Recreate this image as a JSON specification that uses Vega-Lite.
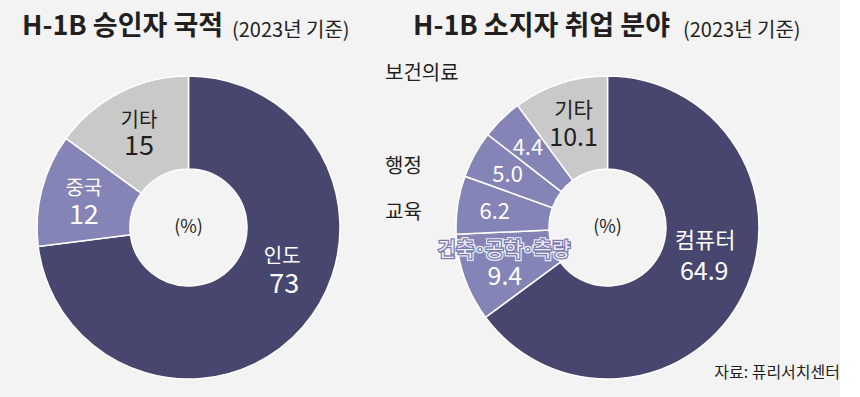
{
  "$schema": "https://vega.github.io/schema/vega-lite/v6.json",
  "background": "#f3f3f3",
  "padding": {"left": 0, "top": 13, "right": 0, "bottom": 0},
  "autosize": {"type": "pad"},
  "config": {
    "font": "Noto Sans CJK KR",
    "view": {"stroke": null},
    "title": {"color": "#231f20", "frame": "group", "anchor": "start", "baseline": "alphabetic", "offset": 0},
    "text": {"font": "Noto Sans CJK KR", "baseline": "middle", "align": "center"}
  },
  "resolve": {"scale": {"color": "independent"}},
  "datasets": {
    "origin": [
      {"cat": "인도", "value": 73, "rank": 1},
      {"cat": "중국", "value": 12, "rank": 2},
      {"cat": "기타", "value": 15, "rank": 3}
    ],
    "field": [
      {"cat": "컴퓨터", "value": 64.9, "rank": 1},
      {"cat": "건축·공학·측량", "value": 9.4, "rank": 2},
      {"cat": "교육", "value": 6.2, "rank": 3},
      {"cat": "행정", "value": 5.0, "rank": 4},
      {"cat": "보건의료", "value": 4.4, "rank": 5},
      {"cat": "기타", "value": 10.1, "rank": 6}
    ]
  },
  "title": {"text": "자료: 퓨리서치센터", "orient": "bottom", "anchor": "start", "align": "right", "fontSize": 16, "fontWeight": "normal", "dx": 840, "dy": -49},
  "spacing": 8,
  "hconcat": [
    {
      "title": {"text": "(2023년 기준)", "dx": 232, "dy": 32, "fontSize": 20, "fontWeight": "normal"},
      "vconcat": [
        {
          "title": {"text": "H-1B 승인자 국적", "dx": 22, "fontSize": 27, "fontWeight": "bold"},
          "width": 377,
          "height": 365,
          "data": {"name": "origin"},
          "encoding": {
            "theta": {"field": "value", "type": "quantitative", "stack": true},
            "order": {"field": "rank", "type": "quantitative"}
          },
          "layer": [
            {
              "mark": {"type": "arc", "innerRadius": 58.5, "outerRadius": 151.5, "stroke": "#ffffff", "strokeWidth": 1.5},
              "encoding": {
                "color": {"field": "cat", "type": "nominal", "legend": null,
                  "scale": {"domain": ["인도", "중국", "기타"], "range": ["#46466f", "#8584b6", "#c9c9c9"]}}
              }
            },
            {
              "mark": {"type": "text", "radius": 107, "dx": -1, "dy": -11.5, "fontSize": 20},
              "encoding": {
                "text": {"condition": {"test": "datum.cat !== '인도'", "field": "cat", "type": "nominal"}, "value": ""},
                "color": {"condition": {"test": "datum.cat === '기타'", "value": "#231f20"}, "value": "#ffffff"}
              }
            },
            {
              "mark": {"type": "text", "radius": 107, "dx": -1, "dy": 15, "fontSize": 27},
              "encoding": {
                "text": {"condition": {"test": "datum.cat !== '인도'", "field": "value", "type": "quantitative", "format": ".0f"}, "value": ""},
                "color": {"condition": {"test": "datum.cat === '기타'", "value": "#231f20"}, "value": "#ffffff"}
              }
            },
            {
              "mark": {"type": "text", "radius": 105, "dx": 15, "dy": -40, "fontSize": 20, "color": "#ffffff"},
              "encoding": {
                "text": {"condition": {"test": "datum.cat === '인도'", "field": "cat", "type": "nominal"}, "value": ""}
              }
            },
            {
              "mark": {"type": "text", "radius": 105, "dx": 17, "dy": -12, "fontSize": 27, "color": "#ffffff"},
              "encoding": {
                "text": {"condition": {"test": "datum.cat === '인도'", "field": "value", "type": "quantitative", "format": ".0f"}, "value": ""}
              }
            },
            {
              "mark": {"type": "text", "radius": 0, "fontSize": 18, "color": "#231f20"},
              "encoding": {
                "text": {"condition": {"test": "datum.rank === 1", "value": "(%)"}, "value": ""}
              }
            }
          ]
        }
      ]
    },
    {
      "title": {"text": "(2023년 기준)", "dx": 270, "dy": 32, "fontSize": 20, "fontWeight": "normal"},
      "vconcat": [
        {
          "title": {"text": "H-1B 소지자 취업 분야", "dx": 0, "fontSize": 27, "fontWeight": "bold"},
          "width": 389,
          "height": 365,
          "data": {"name": "field"},
          "encoding": {
            "theta": {"field": "value", "type": "quantitative", "stack": true},
            "order": {"field": "rank", "type": "quantitative"}
          },
          "layer": [
            {
              "mark": {"type": "arc", "innerRadius": 58.5, "outerRadius": 151.5, "stroke": "#ffffff", "strokeWidth": 1.5},
              "encoding": {
                "color": {"field": "cat", "type": "nominal", "legend": null,
                  "scale": {"domain": ["컴퓨터", "건축·공학·측량", "교육", "행정", "보건의료", "기타"],
                            "range": ["#46466f", "#8584b6", "#8584b6", "#8584b6", "#8584b6", "#c9c9c9"]}}
              }
            },
            {
              "mark": {"type": "text", "radius": 112, "dx": 1, "dy": -10, "fontSize": 21, "color": "#231f20"},
              "encoding": {
                "text": {"condition": {"test": "datum.cat === '기타'", "field": "cat", "type": "nominal"}, "value": ""}
              }
            },
            {
              "mark": {"type": "text", "radius": 112, "dx": 1, "dy": 17, "fontSize": 25, "color": "#231f20"},
              "encoding": {
                "text": {"condition": {"test": "datum.cat === '기타'", "field": "value", "type": "quantitative", "format": ".1f"}, "value": ""}
              }
            },
            {
              "mark": {"type": "text", "radius": 112, "dx": 2, "dy": -14, "fontSize": 20, "color": "#ffffff", "stroke": "#ffffff", "strokeWidth": 5, "strokeOpacity": 0.85},
              "encoding": {
                "text": {"condition": {"test": "datum.rank === 2", "field": "cat", "type": "nominal"}, "value": ""}
              }
            },
            {
              "mark": {"type": "text", "radius": 112, "dx": 2, "dy": -14, "fontSize": 20, "color": "#7b7ab1", "stroke": "#7b7ab1", "strokeWidth": 2.6},
              "encoding": {
                "text": {"condition": {"test": "datum.rank === 2", "field": "cat", "type": "nominal"}, "value": ""}
              }
            },
            {
              "mark": {"type": "text", "radius": 112, "dx": 2, "dy": -14, "fontSize": 20, "color": "#eeeef7"},
              "encoding": {
                "text": {"condition": {"test": "datum.rank === 2", "field": "cat", "type": "nominal"}, "value": ""}
              }
            },
            {
              "mark": {"type": "text", "radius": 112, "dx": 3, "dy": 12.5, "fontSize": 25, "color": "#ffffff"},
              "encoding": {
                "text": {"condition": {"test": "datum.rank === 2", "field": "value", "type": "quantitative", "format": ".1f"}, "value": ""}
              }
            },
            {
              "mark": {"type": "text", "radius": 114, "dy": 2, "fontSize": 22, "color": "#ffffff"},
              "encoding": {
                "text": {"condition": {"test": "datum.rank >= 3 && datum.rank <= 5", "field": "value", "type": "quantitative", "format": ".1f"}, "value": ""}
              }
            },
            {
              "mark": {"type": "text", "radius": 105, "dx": 4, "dy": -34, "fontSize": 22, "color": "#ffffff"},
              "encoding": {
                "text": {"condition": {"test": "datum.rank === 1", "field": "cat", "type": "nominal"}, "value": ""}
              }
            },
            {
              "mark": {"type": "text", "radius": 105, "dx": 3, "dy": -3, "fontSize": 25, "color": "#ffffff"},
              "encoding": {
                "text": {"condition": {"test": "datum.rank === 1", "field": "value", "type": "quantitative", "format": ".1f"}, "value": ""}
              }
            },
            {
              "mark": {"type": "text", "radius": 0, "align": "left", "dx": -222.5, "dy": -153.5, "fontSize": 20, "color": "#231f20"},
              "encoding": {
                "text": {"condition": {"test": "datum.cat === '보건의료'", "field": "cat", "type": "nominal"}, "value": ""}
              }
            },
            {
              "mark": {"type": "text", "radius": 0, "align": "left", "dx": -222.5, "dy": -61, "fontSize": 20, "color": "#231f20"},
              "encoding": {
                "text": {"condition": {"test": "datum.cat === '행정'", "field": "cat", "type": "nominal"}, "value": ""}
              }
            },
            {
              "mark": {"type": "text", "radius": 0, "align": "left", "dx": -222.5, "dy": -14.8, "fontSize": 20, "color": "#231f20"},
              "encoding": {
                "text": {"condition": {"test": "datum.cat === '교육'", "field": "cat", "type": "nominal"}, "value": ""}
              }
            },
            {
              "mark": {"type": "text", "radius": 0, "fontSize": 18, "color": "#231f20"},
              "encoding": {
                "text": {"condition": {"test": "datum.rank === 1", "value": "(%)"}, "value": ""}
              }
            }
          ]
        }
      ]
    }
  ]
}
